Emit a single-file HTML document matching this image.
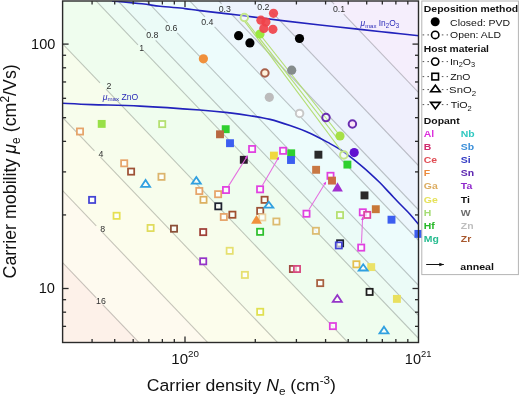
<!DOCTYPE html><html><head><meta charset="utf-8"><title>Carrier mobility vs carrier density</title>
<style>html,body{margin:0;padding:0;background:#fff;}svg{display:block;}text{font-family:"Liberation Sans",Arial,Helvetica,sans-serif;}</style></head><body>
<svg width="520" height="397" viewBox="0 0 520 397">
<defs><clipPath id="pc"><rect x="62.6" y="1" width="355.9" height="341.5"/></clipPath><marker id="ah" viewBox="0 0 10 10" refX="7" refY="5" markerWidth="3.2" markerHeight="3.2" orient="auto"><path d="M0,1 L10,5 L0,9 z" fill="#e040e0"/></marker><marker id="ahk" viewBox="0 0 10 10" refX="9" refY="5" markerWidth="5" markerHeight="5" orient="auto"><path d="M0,1.5 L10,5 L0,8.5 z" fill="#111"/></marker></defs>
<rect width="520" height="397" fill="#fff"/>
<g clip-path="url(#pc)">
<rect x="62.6" y="1" width="355.9" height="341.5" fill="#fdf1e9"/>
<path d="M-300,-116.95 L900,1139.07 L900,-2000 L-300,-2000 z" fill="#fefaef"/>
<path d="M-300,-188.89 L900,1067.13 L900,-2000 L-300,-2000 z" fill="#fcfdec"/>
<path d="M-300,-262.02 L900,994 L900,-2000 L-300,-2000 z" fill="#f7fdec"/>
<path d="M-300,-335.71 L900,920.31 L900,-2000 L-300,-2000 z" fill="#effdee"/>
<path d="M-300,-413.66 L900,842.36 L900,-2000 L-300,-2000 z" fill="#edfcf3"/>
<path d="M-300,-436.59 L900,819.43 L900,-2000 L-300,-2000 z" fill="#ebfbf7"/>
<path d="M-300,-466.66 L900,789.36 L900,-2000 L-300,-2000 z" fill="#edfcfc"/>
<path d="M-300,-511.67 L900,744.34 L900,-2000 L-300,-2000 z" fill="#edf7fc"/>
<path d="M-300,-542.21 L900,713.81 L900,-2000 L-300,-2000 z" fill="#edf3fd"/>
<path d="M-300,-586.44 L900,669.58 L900,-2000 L-300,-2000 z" fill="#efeffc"/>
<path d="M-300,-659.6 L900,596.42 L900,-2000 L-300,-2000 z" fill="#f5eefc"/>
<line x1="57.6" y1="257.34" x2="96.3" y2="297.85" stroke="#000" stroke-opacity="0.22" stroke-width="1.1"/>
<line x1="102.7" y1="304.55" x2="423.5" y2="640.32" stroke="#000" stroke-opacity="0.22" stroke-width="1.1"/>
<line x1="57.6" y1="185.41" x2="96.25" y2="225.86" stroke="#000" stroke-opacity="0.22" stroke-width="1.1"/>
<line x1="102.25" y1="232.14" x2="423.5" y2="568.39" stroke="#000" stroke-opacity="0.22" stroke-width="1.1"/>
<line x1="57.6" y1="112.28" x2="94.46" y2="150.86" stroke="#000" stroke-opacity="0.22" stroke-width="1.1"/>
<line x1="100.46" y1="157.14" x2="423.5" y2="495.26" stroke="#000" stroke-opacity="0.22" stroke-width="1.1"/>
<line x1="57.6" y1="38.58" x2="100" y2="82.96" stroke="#000" stroke-opacity="0.22" stroke-width="1.1"/>
<line x1="106" y1="89.24" x2="423.5" y2="421.56" stroke="#000" stroke-opacity="0.22" stroke-width="1.1"/>
<line x1="57.6" y1="-39.37" x2="137.97" y2="44.76" stroke="#000" stroke-opacity="0.22" stroke-width="1.1"/>
<line x1="143.97" y1="51.04" x2="423.5" y2="343.62" stroke="#000" stroke-opacity="0.22" stroke-width="1.1"/>
<line x1="57.6" y1="-62.29" x2="146.04" y2="30.28" stroke="#000" stroke-opacity="0.22" stroke-width="1.1"/>
<line x1="155.64" y1="40.32" x2="423.5" y2="320.69" stroke="#000" stroke-opacity="0.22" stroke-width="1.1"/>
<line x1="57.6" y1="-92.36" x2="167.6" y2="22.78" stroke="#000" stroke-opacity="0.22" stroke-width="1.1"/>
<line x1="177.2" y1="32.82" x2="423.5" y2="290.62" stroke="#000" stroke-opacity="0.22" stroke-width="1.1"/>
<line x1="57.6" y1="-137.38" x2="204.98" y2="16.88" stroke="#000" stroke-opacity="0.22" stroke-width="1.1"/>
<line x1="214.58" y1="26.92" x2="423.5" y2="245.6" stroke="#000" stroke-opacity="0.22" stroke-width="1.1"/>
<line x1="57.6" y1="-167.91" x2="221.63" y2="3.78" stroke="#000" stroke-opacity="0.22" stroke-width="1.1"/>
<line x1="231.23" y1="13.82" x2="423.5" y2="215.07" stroke="#000" stroke-opacity="0.22" stroke-width="1.1"/>
<line x1="57.6" y1="-212.15" x2="262.27" y2="2.08" stroke="#000" stroke-opacity="0.22" stroke-width="1.1"/>
<line x1="271.87" y1="12.12" x2="423.5" y2="170.83" stroke="#000" stroke-opacity="0.22" stroke-width="1.1"/>
<line x1="57.6" y1="-285.3" x2="334.17" y2="4.18" stroke="#000" stroke-opacity="0.22" stroke-width="1.1"/>
<line x1="343.77" y1="14.22" x2="423.5" y2="97.68" stroke="#000" stroke-opacity="0.22" stroke-width="1.1"/>
</g>
<text x="101" y="304.35" font-size="8.8" fill="#303030" text-anchor="middle">16</text>
<text x="102.8" y="232.15" font-size="8.8" fill="#303030" text-anchor="middle">8</text>
<text x="101" y="157.15" font-size="8.8" fill="#303030" text-anchor="middle">4</text>
<text x="109" y="89.25" font-size="8.8" fill="#303030" text-anchor="middle">2</text>
<text x="141.7" y="51.05" font-size="8.8" fill="#303030" text-anchor="middle">1</text>
<text x="152.3" y="38.45" font-size="8.8" fill="#303030" text-anchor="middle">0.8</text>
<text x="171.35" y="30.95" font-size="8.8" fill="#303030" text-anchor="middle">0.6</text>
<text x="207.3" y="25.05" font-size="8.8" fill="#303030" text-anchor="middle">0.4</text>
<text x="224.8" y="11.95" font-size="8.8" fill="#303030" text-anchor="middle">0.3</text>
<text x="263.4" y="10.25" font-size="8.8" fill="#303030" text-anchor="middle">0.2</text>
<text x="339" y="12.35" font-size="8.8" fill="#303030" text-anchor="middle">0.1</text>
<g clip-path="url(#pc)" fill="none" stroke="#2222bc" stroke-width="1.6">
<path d="M112,0.9 C117,1.38 134,2.9 142,3.8 C150,4.7 152.83,5.5 160,6.3 C167.17,7.1 178.33,7.88 185,8.6 C191.67,9.32 190.83,9.48 200,10.6 C209.17,11.72 226.67,13.67 240,15.3 C253.33,16.93 266.67,18.78 280,20.4 C293.33,22.02 306.67,23.5 320,25 C333.33,26.5 348.33,28.13 360,29.4 C371.67,30.67 380.17,31.53 390,32.6 C399.83,33.67 414.17,35.27 419,35.8"/>
<path d="M62.6,103.3 C67.5,103.52 79.1,104.13 92,104.6 C104.9,105.07 122,105.2 140,106.1 C158,107 185,108.87 200,110 C215,111.13 221.67,111.95 230,112.9 C238.33,113.85 243.33,114.62 250,115.7 C256.67,116.78 263.33,117.75 270,119.4 C276.67,121.05 283.33,123.28 290,125.6 C296.67,127.92 303.33,130.3 310,133.3 C316.67,136.3 325,140.92 330,143.6 C335,146.28 336.67,147.23 340,149.4 C343.33,151.57 346.67,154.07 350,156.6 C353.33,159.13 356.67,161.82 360,164.6 C363.33,167.38 366.67,170.27 370,173.3 C373.33,176.33 376.67,179.45 380,182.8 C383.33,186.15 386.67,189.87 390,193.4 C393.33,196.93 396.67,200.53 400,204 C403.33,207.47 406.92,210.82 410,214.2 C413.08,217.58 417.08,222.62 418.5,224.3"/>
</g>
<line x1="244.4" y1="21" x2="341.4" y2="151" stroke="#b4de74" stroke-width="1.2"/>
<line x1="246" y1="21" x2="336.6" y2="137.5" stroke="#b4de74" stroke-width="1.2"/>
<line x1="259.6" y1="34" x2="339.4" y2="135" stroke="#b4de74" stroke-width="1.2"/>
<circle cx="260" cy="34" r="4.6" fill="#9ae840" fill-opacity="1"/>
<circle cx="273.5" cy="13.3" r="4.6" fill="#f0424a" fill-opacity="0.92"/>
<circle cx="260.9" cy="20.2" r="4.6" fill="#f0424a" fill-opacity="0.92"/>
<circle cx="265.9" cy="22.1" r="4.6" fill="#f0424a" fill-opacity="0.92"/>
<circle cx="263.8" cy="28.4" r="4.6" fill="#f0424a" fill-opacity="0.92"/>
<circle cx="272.9" cy="29.3" r="4.6" fill="#f0424a" fill-opacity="0.92"/>
<circle cx="238.6" cy="35.7" r="4.6" fill="#000" fill-opacity="1"/>
<circle cx="249.9" cy="42.9" r="4.6" fill="#000" fill-opacity="1"/>
<circle cx="299.5" cy="38.5" r="4.6" fill="#000" fill-opacity="1"/>
<circle cx="203.4" cy="58.8" r="4.6" fill="#f0903c" fill-opacity="1"/>
<circle cx="291.7" cy="70.2" r="4.6" fill="#858c8c" fill-opacity="1"/>
<circle cx="269.3" cy="97.3" r="4.6" fill="#bcbcbc" fill-opacity="1"/>
<circle cx="340" cy="136" r="4.6" fill="#a6e046" fill-opacity="1"/>
<circle cx="354.2" cy="152.6" r="4.6" fill="#6010d0" fill-opacity="1"/>
<circle cx="244.3" cy="17.5" r="3.75" fill="#ffffff" fill-opacity="0.35" stroke="#c4e68a" stroke-width="2"/>
<circle cx="264.9" cy="73" r="3.75" fill="#fff2dc" fill-opacity="1" stroke="#a8604a" stroke-width="2"/>
<circle cx="299.6" cy="113.4" r="3.75" fill="#ffffff" fill-opacity="0.9" stroke="#c8c8c8" stroke-width="2"/>
<circle cx="326" cy="117.6" r="3.75" fill="#ffffff" fill-opacity="0.25" stroke="#6a2cb0" stroke-width="2"/>
<circle cx="352.4" cy="124" r="3.75" fill="#fde4f8" fill-opacity="1" stroke="#6a2cb0" stroke-width="2"/>
<circle cx="343.8" cy="154.9" r="3.75" fill="#ffffff" fill-opacity="0.35" stroke="#c4e68a" stroke-width="2"/>
<rect x="97.75" y="119.95" width="7.9" height="7.9" fill="#98e048"/>
<rect x="221.75" y="125.25" width="7.9" height="7.9" fill="#2ed02e"/>
<rect x="216.05" y="130.35" width="7.9" height="7.9" fill="#b86840"/>
<rect x="226.05" y="139.25" width="7.9" height="7.9" fill="#3c5ef0"/>
<rect x="239.85" y="155.85" width="7.9" height="7.9" fill="#2a1a2c"/>
<rect x="269.95" y="151.65" width="7.9" height="7.9" fill="#f0d840"/>
<rect x="287.25" y="149.35" width="7.9" height="7.9" fill="#2ed02e"/>
<rect x="287.05" y="156.05" width="7.9" height="7.9" fill="#3c5ef0"/>
<rect x="314.45" y="150.75" width="7.9" height="7.9" fill="#2a2a2a"/>
<rect x="343.45" y="160.65" width="7.9" height="7.9" fill="#2ed02e"/>
<rect x="312.15" y="165.85" width="7.9" height="7.9" fill="#c87844"/>
<rect x="360.55" y="191.45" width="7.9" height="7.9" fill="#2a2a2a"/>
<rect x="371.85" y="205.25" width="7.9" height="7.9" fill="#c87838"/>
<rect x="387.55" y="215.75" width="7.9" height="7.9" fill="#3c5ef0"/>
<rect x="414.45" y="229.95" width="7.9" height="7.9" fill="#3c5ef0"/>
<rect x="367.25" y="263.15" width="7.9" height="7.9" fill="#ebe268"/>
<rect x="392.95" y="294.95" width="7.9" height="7.9" fill="#e9e05e"/>
<rect x="76.9" y="128.4" width="6.2" height="6.2" fill="#fff" fill-opacity="0.7" stroke="#e6a46a" stroke-width="1.75"/>
<rect x="159.1" y="121" width="6.2" height="6.2" fill="#fff" fill-opacity="0.7" stroke="#b4e070" stroke-width="1.75"/>
<rect x="249" y="145.9" width="6.2" height="6.2" fill="#fff" fill-opacity="0.7" stroke="#e040e0" stroke-width="1.75"/>
<rect x="280" y="147.7" width="6.2" height="6.2" fill="#fff" fill-opacity="0.7" stroke="#e040e0" stroke-width="1.75"/>
<rect x="121.1" y="160.2" width="6.2" height="6.2" fill="#fff" fill-opacity="0.7" stroke="#e6a46a" stroke-width="1.75"/>
<rect x="128" y="168.5" width="6.2" height="6.2" fill="#fff" fill-opacity="0.7" stroke="#9e5236" stroke-width="1.75"/>
<rect x="158.4" y="173.7" width="6.2" height="6.2" fill="#fff" fill-opacity="0.7" stroke="#dcb46c" stroke-width="1.75"/>
<rect x="89" y="196.8" width="6.2" height="6.2" fill="#fff" fill-opacity="0.7" stroke="#4444d4" stroke-width="1.75"/>
<rect x="196.2" y="187.9" width="6.2" height="6.2" fill="#fff" fill-opacity="0.7" stroke="#e6a46a" stroke-width="1.75"/>
<rect x="200.4" y="196.7" width="6.2" height="6.2" fill="#fff" fill-opacity="0.7" stroke="#dcb060" stroke-width="1.75"/>
<rect x="215" y="191.1" width="6.2" height="6.2" fill="#fff" fill-opacity="0.7" stroke="#e6a46a" stroke-width="1.75"/>
<rect x="222.9" y="186.9" width="6.2" height="6.2" fill="#fff" fill-opacity="0.7" stroke="#e040e0" stroke-width="1.75"/>
<rect x="215.2" y="203.2" width="6.2" height="6.2" fill="#fff" fill-opacity="0.7" stroke="#1e2230" stroke-width="1.75"/>
<rect x="220.7" y="213.9" width="6.2" height="6.2" fill="#fff" fill-opacity="0.7" stroke="#e6a46a" stroke-width="1.75"/>
<rect x="229.3" y="211.6" width="6.2" height="6.2" fill="#fff" fill-opacity="0.7" stroke="#a05030" stroke-width="1.75"/>
<rect x="257" y="186.2" width="6.2" height="6.2" fill="#fff" fill-opacity="0.7" stroke="#e040e0" stroke-width="1.75"/>
<rect x="261.5" y="196.7" width="6.2" height="6.2" fill="#fff" fill-opacity="0.7" stroke="#9e5236" stroke-width="1.75"/>
<rect x="257.1" y="207.8" width="6.2" height="6.2" fill="#fff" fill-opacity="0.7" stroke="#9e5236" stroke-width="1.75"/>
<rect x="259.2" y="214.3" width="6.2" height="6.2" fill="#fff" fill-opacity="0.7" stroke="#ecd2a0" stroke-width="1.75"/>
<rect x="273.3" y="218.4" width="6.2" height="6.2" fill="#fff" fill-opacity="0.7" stroke="#dcbc70" stroke-width="1.75"/>
<rect x="257" y="228.7" width="6.2" height="6.2" fill="#fff" fill-opacity="0.7" stroke="#2ec02e" stroke-width="1.75"/>
<rect x="303.4" y="210.6" width="6.2" height="6.2" fill="#fff" fill-opacity="0.7" stroke="#e040e0" stroke-width="1.75"/>
<rect x="336.9" y="212" width="6.2" height="6.2" fill="#fff" fill-opacity="0.7" stroke="#b4e070" stroke-width="1.75"/>
<rect x="312.8" y="227.7" width="6.2" height="6.2" fill="#fff" fill-opacity="0.7" stroke="#dcbc70" stroke-width="1.75"/>
<rect x="359.7" y="209.2" width="6.2" height="6.2" fill="#fff" fill-opacity="0.7" stroke="#e040e0" stroke-width="1.75"/>
<rect x="364.1" y="211.8" width="6.2" height="6.2" fill="#fff" fill-opacity="0.7" stroke="#dc44a0" stroke-width="1.75"/>
<rect x="337" y="240.2" width="6.2" height="6.2" fill="#fff" fill-opacity="0.7" stroke="#1e2230" stroke-width="1.75"/>
<rect x="335.7" y="242.3" width="6.2" height="6.2" fill="#fff" fill-opacity="0.7" stroke="#4444d4" stroke-width="1.75"/>
<rect x="353.3" y="261.2" width="6.2" height="6.2" fill="#fff" fill-opacity="0.7" stroke="#e4c050" stroke-width="1.75"/>
<rect x="366.5" y="288.8" width="6.2" height="6.2" fill="#fff" fill-opacity="0.7" stroke="#1e1e1e" stroke-width="1.75"/>
<rect x="113.5" y="212.7" width="6.2" height="6.2" fill="#fff" fill-opacity="0.7" stroke="#e6e050" stroke-width="1.75"/>
<rect x="147.5" y="224.9" width="6.2" height="6.2" fill="#fff" fill-opacity="0.7" stroke="#e0dc5c" stroke-width="1.75"/>
<rect x="170.9" y="225.6" width="6.2" height="6.2" fill="#fff" fill-opacity="0.7" stroke="#8c5038" stroke-width="1.75"/>
<rect x="200.1" y="229" width="6.2" height="6.2" fill="#fff" fill-opacity="0.7" stroke="#a04038" stroke-width="1.75"/>
<rect x="200.1" y="258.2" width="6.2" height="6.2" fill="#fff" fill-opacity="0.7" stroke="#9434c8" stroke-width="1.75"/>
<rect x="226.6" y="247.7" width="6.2" height="6.2" fill="#fff" fill-opacity="0.7" stroke="#e6e070" stroke-width="1.75"/>
<rect x="241.8" y="271.8" width="6.2" height="6.2" fill="#fff" fill-opacity="0.7" stroke="#e6e070" stroke-width="1.75"/>
<rect x="257.1" y="308.7" width="6.2" height="6.2" fill="#fff" fill-opacity="0.7" stroke="#e0e050" stroke-width="1.75"/>
<rect x="289.8" y="265.9" width="6.2" height="6.2" fill="#fff" fill-opacity="0.7" stroke="#a04a40" stroke-width="1.75"/>
<rect x="293.9" y="265.9" width="6.2" height="6.2" fill="#fff" fill-opacity="0.7" stroke="#d84880" stroke-width="1.75"/>
<rect x="317.1" y="280" width="6.2" height="6.2" fill="#fff" fill-opacity="0.7" stroke="#a86040" stroke-width="1.75"/>
<rect x="329.8" y="323" width="6.2" height="6.2" fill="#fff" fill-opacity="0.7" stroke="#e040e0" stroke-width="1.75"/>
<rect x="358.1" y="244.5" width="6.2" height="6.2" fill="#fff" fill-opacity="0.7" stroke="#e040e0" stroke-width="1.75"/>
<rect x="327.4" y="172.7" width="6.2" height="6.2" fill="#fff" fill-opacity="0.7" stroke="#e040e0" stroke-width="1.75"/>
<rect x="328.05" y="176.65" width="7.9" height="7.9" fill="#cc6c44"/>
<path d="M145.6,179.9 L150.1,186.8 L141.1,186.8 z" fill="#fff" fill-opacity="0.6" stroke="#30a0e0" stroke-width="1.8" stroke-linejoin="miter"/>
<path d="M196.3,177 L200.8,183.7 L191.8,183.7 z" fill="#fff" fill-opacity="0.6" stroke="#30a0e0" stroke-width="1.8" stroke-linejoin="miter"/>
<path d="M268.8,201.7 L273.3,207.6 L264.3,207.6 z" fill="#fff" fill-opacity="0.6" stroke="#30a0e0" stroke-width="1.8" stroke-linejoin="miter"/>
<path d="M256.5,215 L261.9,223.8 L251.1,223.8 z" fill="#f0903c"/>
<path d="M337.5,182.3 L342.9,191.6 L332.1,191.6 z" fill="#a030d0"/>
<path d="M363.2,264.3 L367.7,270.5 L358.7,270.5 z" fill="#fff" fill-opacity="0.6" stroke="#30a0e0" stroke-width="1.8" stroke-linejoin="miter"/>
<path d="M337.3,295.1 L341.8,301.8 L332.8,301.8 z" fill="#fff" fill-opacity="0.6" stroke="#9434c8" stroke-width="1.8" stroke-linejoin="miter"/>
<path d="M384,326.7 L388.5,333.4 L379.5,333.4 z" fill="#fff" fill-opacity="0.6" stroke="#30a0e0" stroke-width="1.8" stroke-linejoin="miter"/>
<line x1="228.6" y1="185.9" x2="247.2" y2="156.2" stroke="#e46ee0" stroke-width="1.05" marker-end="url(#ah)"/>
<line x1="262.5" y1="185.2" x2="278.6" y2="157.6" stroke="#e46ee0" stroke-width="1.05" marker-end="url(#ah)"/>
<line x1="309" y1="209.5" x2="325.6" y2="182.4" stroke="#e46ee0" stroke-width="1.05" marker-end="url(#ah)"/>
<line x1="361.5" y1="243.2" x2="362.6" y2="217.6" stroke="#e46ee0" stroke-width="1.05" marker-end="url(#ah)"/>
<g stroke="#2a2a2a" fill="none">
<rect x="62.6" y="1" width="355.9" height="341.5" stroke-width="1.4"/>
<line x1="92.08" y1="342.5" x2="92.08" y2="339" stroke-width="1.3"/>
<line x1="92.08" y1="1" x2="92.08" y2="4.5" stroke-width="1.3"/>
<line x1="114.71" y1="342.5" x2="114.71" y2="339" stroke-width="1.3"/>
<line x1="114.71" y1="1" x2="114.71" y2="4.5" stroke-width="1.3"/>
<line x1="133.2" y1="342.5" x2="133.2" y2="339" stroke-width="1.3"/>
<line x1="133.2" y1="1" x2="133.2" y2="4.5" stroke-width="1.3"/>
<line x1="148.83" y1="342.5" x2="148.83" y2="339" stroke-width="1.3"/>
<line x1="148.83" y1="1" x2="148.83" y2="4.5" stroke-width="1.3"/>
<line x1="162.37" y1="342.5" x2="162.37" y2="339" stroke-width="1.3"/>
<line x1="162.37" y1="1" x2="162.37" y2="4.5" stroke-width="1.3"/>
<line x1="174.32" y1="342.5" x2="174.32" y2="339" stroke-width="1.3"/>
<line x1="174.32" y1="1" x2="174.32" y2="4.5" stroke-width="1.3"/>
<line x1="185" y1="342.5" x2="185" y2="336.5" stroke-width="1.3"/>
<line x1="185" y1="1" x2="185" y2="7" stroke-width="1.3"/>
<line x1="255.29" y1="342.5" x2="255.29" y2="339" stroke-width="1.3"/>
<line x1="255.29" y1="1" x2="255.29" y2="4.5" stroke-width="1.3"/>
<line x1="296.41" y1="342.5" x2="296.41" y2="339" stroke-width="1.3"/>
<line x1="296.41" y1="1" x2="296.41" y2="4.5" stroke-width="1.3"/>
<line x1="325.58" y1="342.5" x2="325.58" y2="339" stroke-width="1.3"/>
<line x1="325.58" y1="1" x2="325.58" y2="4.5" stroke-width="1.3"/>
<line x1="348.21" y1="342.5" x2="348.21" y2="339" stroke-width="1.3"/>
<line x1="348.21" y1="1" x2="348.21" y2="4.5" stroke-width="1.3"/>
<line x1="366.7" y1="342.5" x2="366.7" y2="339" stroke-width="1.3"/>
<line x1="366.7" y1="1" x2="366.7" y2="4.5" stroke-width="1.3"/>
<line x1="382.33" y1="342.5" x2="382.33" y2="339" stroke-width="1.3"/>
<line x1="382.33" y1="1" x2="382.33" y2="4.5" stroke-width="1.3"/>
<line x1="395.87" y1="342.5" x2="395.87" y2="339" stroke-width="1.3"/>
<line x1="395.87" y1="1" x2="395.87" y2="4.5" stroke-width="1.3"/>
<line x1="407.82" y1="342.5" x2="407.82" y2="339" stroke-width="1.3"/>
<line x1="407.82" y1="1" x2="407.82" y2="4.5" stroke-width="1.3"/>
<line x1="62.6" y1="326.36" x2="66.1" y2="326.36" stroke-width="1.3"/>
<line x1="418.5" y1="326.36" x2="415" y2="326.36" stroke-width="1.3"/>
<line x1="62.6" y1="312.18" x2="66.1" y2="312.18" stroke-width="1.3"/>
<line x1="418.5" y1="312.18" x2="415" y2="312.18" stroke-width="1.3"/>
<line x1="62.6" y1="299.68" x2="66.1" y2="299.68" stroke-width="1.3"/>
<line x1="418.5" y1="299.68" x2="415" y2="299.68" stroke-width="1.3"/>
<line x1="62.6" y1="288.5" x2="68.6" y2="288.5" stroke-width="1.3"/>
<line x1="418.5" y1="288.5" x2="412.5" y2="288.5" stroke-width="1.3"/>
<line x1="62.6" y1="214.93" x2="66.1" y2="214.93" stroke-width="1.3"/>
<line x1="418.5" y1="214.93" x2="415" y2="214.93" stroke-width="1.3"/>
<line x1="62.6" y1="171.89" x2="66.1" y2="171.89" stroke-width="1.3"/>
<line x1="418.5" y1="171.89" x2="415" y2="171.89" stroke-width="1.3"/>
<line x1="62.6" y1="141.36" x2="66.1" y2="141.36" stroke-width="1.3"/>
<line x1="418.5" y1="141.36" x2="415" y2="141.36" stroke-width="1.3"/>
<line x1="62.6" y1="117.67" x2="66.1" y2="117.67" stroke-width="1.3"/>
<line x1="418.5" y1="117.67" x2="415" y2="117.67" stroke-width="1.3"/>
<line x1="62.6" y1="98.32" x2="66.1" y2="98.32" stroke-width="1.3"/>
<line x1="418.5" y1="98.32" x2="415" y2="98.32" stroke-width="1.3"/>
<line x1="62.6" y1="81.96" x2="66.1" y2="81.96" stroke-width="1.3"/>
<line x1="418.5" y1="81.96" x2="415" y2="81.96" stroke-width="1.3"/>
<line x1="62.6" y1="67.78" x2="66.1" y2="67.78" stroke-width="1.3"/>
<line x1="418.5" y1="67.78" x2="415" y2="67.78" stroke-width="1.3"/>
<line x1="62.6" y1="55.28" x2="66.1" y2="55.28" stroke-width="1.3"/>
<line x1="418.5" y1="55.28" x2="415" y2="55.28" stroke-width="1.3"/>
<line x1="62.6" y1="44.1" x2="68.6" y2="44.1" stroke-width="1.3"/>
<line x1="418.5" y1="44.1" x2="412.5" y2="44.1" stroke-width="1.3"/>
</g>
<rect x="421.8" y="1.0" width="96.6" height="273.6" fill="#fff" stroke="#b4b4b4" stroke-width="1"/>
<g font-size="10.2" fill="#111">
<circle cx="435.2" cy="21.7" r="4.5" fill="#000"/>
<line x1="422.6" y1="34.9" x2="448" y2="34.9" stroke="#555" stroke-width="1" stroke-dasharray="1.6,3.2"/>
<circle cx="435.2" cy="34.9" r="3.7" fill="#fff" stroke="#000" stroke-width="1.6"/>
<line x1="422.6" y1="61.6" x2="448" y2="61.6" stroke="#555" stroke-width="1" stroke-dasharray="1.6,3.2"/>
<circle cx="435.2" cy="61.6" r="3.6" fill="#fff" stroke="#000" stroke-width="1.6"/>
<line x1="422.6" y1="76.6" x2="448" y2="76.6" stroke="#555" stroke-width="1" stroke-dasharray="1.6,3.2"/>
<rect x="431.9" y="73.3" width="6.6" height="6.6" fill="#fff" stroke="#000" stroke-width="1.6"/>
<line x1="422.6" y1="89.6" x2="448" y2="89.6" stroke="#555" stroke-width="1" stroke-dasharray="1.6,3.2"/>
<path d="M435.4,85.2 L440.2,91.8 L430.6,91.8 z" fill="#fff" stroke="#000" stroke-width="1.6"/>
<line x1="422.6" y1="104.6" x2="448" y2="104.6" stroke="#555" stroke-width="1" stroke-dasharray="1.6,3.2"/>
<path d="M435.4,108.8 L440.2,102.4 L430.6,102.4 z" fill="#fff" stroke="#000" stroke-width="1.6"/>
<line x1="426.2" y1="264.5" x2="443.8" y2="264.5" stroke="#111" stroke-width="1" marker-end="url(#ahk)"/>
</g>
<text font-size="17.1" fill="#111" textLength="189.24" lengthAdjust="spacingAndGlyphs" x="146.75" y="390.80">Carrier density <tspan font-style="italic">N</tspan><tspan font-size="11.4" dy="4.1">e</tspan><tspan dy="-4.1"> (cm</tspan><tspan font-size="11.4" dy="-6.8">-3</tspan><tspan dy="6.8">)</tspan></text>
<text font-size="17.8" fill="#111" textLength="214.21" lengthAdjust="spacingAndGlyphs" transform="translate(16.20,278.45) rotate(-90)">Carrier mobility <tspan font-style="italic">&#956;</tspan><tspan font-size="11.9" dy="4.2">e</tspan><tspan dy="-4.2"> (cm</tspan><tspan font-size="11.9" dy="-7.0">2</tspan><tspan dy="7.0">/Vs)</tspan></text>
<text font-size="14.8" fill="#111" textLength="24.19" lengthAdjust="spacingAndGlyphs" x="31.10" y="48.70">100</text>
<text font-size="14.6" fill="#111" textLength="16.28" lengthAdjust="spacingAndGlyphs" x="38.65" y="293.10">10</text>
<text font-size="14.8" fill="#111" textLength="27.70" lengthAdjust="spacingAndGlyphs" x="171.25" y="363.60">10<tspan font-size="9.6" dy="-6.2">20</tspan></text>
<text font-size="14.8" fill="#111" textLength="26.66" lengthAdjust="spacingAndGlyphs" x="404.85" y="363.60">10<tspan font-size="9.6" dy="-6.2">21</tspan></text>
<text font-size="9.8" fill="#111" font-weight="bold" textLength="94.33" lengthAdjust="spacingAndGlyphs" x="423.85" y="12.00">Deposition method</text>
<text font-size="9.9" fill="#111" textLength="60.08" lengthAdjust="spacingAndGlyphs" x="450.05" y="25.50">Closed: PVD</text>
<text font-size="9.9" fill="#111" textLength="50.91" lengthAdjust="spacingAndGlyphs" x="450.05" y="37.80">Open: ALD</text>
<text font-size="9.8" fill="#111" font-weight="bold" textLength="65.14" lengthAdjust="spacingAndGlyphs" x="423.85" y="51.50">Host material</text>
<text font-size="9.9" fill="#111" textLength="25.26" lengthAdjust="spacingAndGlyphs" x="449.90" y="64.80">In<tspan font-size="6.9" dy="2.6">2</tspan><tspan dy="-2.6">O</tspan><tspan font-size="6.9" dy="2.6">3</tspan></text>
<text font-size="9.9" fill="#111" textLength="20.32" lengthAdjust="spacingAndGlyphs" x="450.20" y="79.80">ZnO</text>
<text font-size="9.9" fill="#111" textLength="26.97" lengthAdjust="spacingAndGlyphs" x="449.13" y="93.20">SnO<tspan font-size="6.9" dy="2.6">2</tspan></text>
<text font-size="9.9" fill="#111" textLength="21.06" lengthAdjust="spacingAndGlyphs" x="450.75" y="108.20">TiO<tspan font-size="6.9" dy="2.6">2</tspan></text>
<text font-size="9.8" fill="#111" font-weight="bold" textLength="35.84" lengthAdjust="spacingAndGlyphs" x="423.85" y="124.00">Dopant</text>
<text font-size="9.8" fill="#111" font-weight="bold" textLength="33.68" lengthAdjust="spacingAndGlyphs" x="460.25" y="270.30">anneal</text>
<text font-size="8.7" fill="#2a2ab8" textLength="35.57" lengthAdjust="spacingAndGlyphs" x="102.75" y="99.70"><tspan font-style="italic">&#956;</tspan><tspan font-size="6.2" dy="1.5">max</tspan><tspan dy="-1.5"> ZnO</tspan></text>
<text font-size="8.7" fill="#2a2ab8" textLength="38.65" lengthAdjust="spacingAndGlyphs" x="360.55" y="26.20"><tspan font-style="italic">&#956;</tspan><tspan font-size="6.2" dy="1.5">max</tspan><tspan dy="-1.5"> In</tspan><tspan font-size="6.4" dy="1.8">2</tspan><tspan dy="-1.8">O</tspan><tspan font-size="6.4" dy="1.8">3</tspan></text>
<text font-size="9.8" fill="#dc30dc" font-weight="bold" textLength="10.45" lengthAdjust="spacingAndGlyphs" x="423.80" y="136.80">Al</text>
<text font-size="9.8" fill="#30c8c0" font-weight="bold" textLength="13.91" lengthAdjust="spacingAndGlyphs" x="460.80" y="136.80">Nb</text>
<text font-size="9.8" fill="#d02c6c" font-weight="bold" textLength="7.54" lengthAdjust="spacingAndGlyphs" x="423.80" y="149.97">B</text>
<text font-size="9.8" fill="#3a8ed8" font-weight="bold" textLength="13.34" lengthAdjust="spacingAndGlyphs" x="460.80" y="149.97">Sb</text>
<text font-size="9.8" fill="#e04c54" font-weight="bold" textLength="13.34" lengthAdjust="spacingAndGlyphs" x="423.80" y="163.14">Ce</text>
<text font-size="9.8" fill="#3038c4" font-weight="bold" textLength="9.87" lengthAdjust="spacingAndGlyphs" x="460.80" y="163.14">Si</text>
<text font-size="9.8" fill="#ec8a3c" font-weight="bold" textLength="6.37" lengthAdjust="spacingAndGlyphs" x="423.80" y="176.31">F</text>
<text font-size="9.8" fill="#5c24b0" font-weight="bold" textLength="13.34" lengthAdjust="spacingAndGlyphs" x="460.80" y="176.31">Sn</text>
<text font-size="9.8" fill="#dcac60" font-weight="bold" textLength="13.93" lengthAdjust="spacingAndGlyphs" x="423.80" y="189.48">Ga</text>
<text font-size="9.8" fill="#9028cc" font-weight="bold" textLength="11.41" lengthAdjust="spacingAndGlyphs" x="460.80" y="189.48">Ta</text>
<text font-size="9.8" fill="#e6e25a" font-weight="bold" textLength="13.93" lengthAdjust="spacingAndGlyphs" x="423.80" y="202.65">Ge</text>
<text font-size="9.8" fill="#111111" font-weight="bold" textLength="9.08" lengthAdjust="spacingAndGlyphs" x="460.80" y="202.65">Ti</text>
<text font-size="9.8" fill="#a4dc74" font-weight="bold" textLength="7.54" lengthAdjust="spacingAndGlyphs" x="423.80" y="215.82">H</text>
<text font-size="9.8" fill="#6c6c6c" font-weight="bold" textLength="9.85" lengthAdjust="spacingAndGlyphs" x="460.80" y="215.82">W</text>
<text font-size="9.8" fill="#26b826" font-weight="bold" textLength="11.01" lengthAdjust="spacingAndGlyphs" x="423.80" y="228.99">Hf</text>
<text font-size="9.8" fill="#bebebe" font-weight="bold" textLength="12.74" lengthAdjust="spacingAndGlyphs" x="460.80" y="228.99">Zn</text>
<text font-size="9.8" fill="#26bc90" font-weight="bold" textLength="15.07" lengthAdjust="spacingAndGlyphs" x="423.80" y="242.16">Mg</text>
<text font-size="9.8" fill="#a8582e" font-weight="bold" textLength="10.45" lengthAdjust="spacingAndGlyphs" x="460.80" y="242.16">Zr</text>
</svg></body></html>
